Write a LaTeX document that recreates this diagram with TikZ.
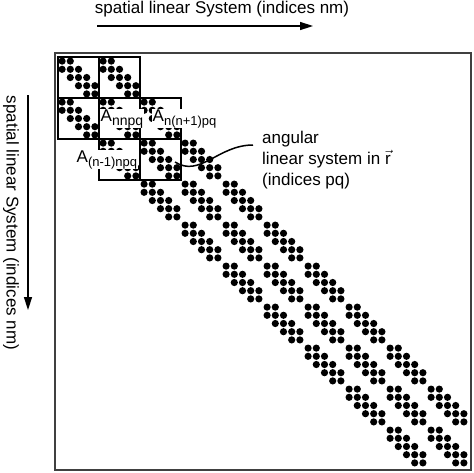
\documentclass[tikz,border=0pt]{standalone}
\usepackage{fontspec}
\setmainfont{Liberation Sans}
\usepackage{tikz}
\usetikzlibrary{arrows.meta, positioning, calc}

\begin{document}
\begin{tikzpicture}[x=1pt, y=-1pt, font=\fontsize{17}{21}\selectfont,
    blockbox/.style={draw, line width=1.6pt},
    axisarrow/.style={line width=1.5pt, -{Triangle[length=13pt, width=8pt]}},
    sublabel/.style={fill=white, inner sep=0.5pt, anchor=base west}]
    \useasboundingbox (0,0) rectangle (474,472);

    % frame of the whole matrix
    \draw[line width=1.5pt, black!75] (55,53) rectangle (471,470);

    % block tridiagonal, every block tridiagonal too
    \foreach \n in {1,...,10} {
        \foreach \d in {-1,0,1} {
            \pgfmathtruncatemacro{\m}{\n+\d}
            \ifnum\m>0 \ifnum\m<11
                \foreach \r in {1,...,5} {
                    \foreach \c in {1,...,5} {
                        \pgfmathtruncatemacro{\dd}{abs(\r-\c)}
                        \ifnum\dd<2
                            \fill ({58+41*(\m-1)+8.2*(\c-0.5)}, {57+41*(\n-1)+8.2*(\r-0.5)}) circle (3.6);
                        \fi
                    }
                }
            \fi\fi
        }
    }

    % boxes round the first blocks
    \foreach \n/\m in {1/1, 1/2, 2/1, 2/2, 2/3, 3/2, 3/3}
        \draw[blockbox] ({58+41*(\m-1)}, {57+41*(\n-1)}) rectangle +(41,41);

    \node[sublabel] (Ann) at (100,121) {A\raisebox{-4pt}{\fontsize{14}{14}\selectfont nnpq}};
    \node[sublabel] (Anm) at (152,121) {A\raisebox{-4pt}{\fontsize{13}{13}\selectfont n(n+1)pq}};
    \node[sublabel] (Amn) at (76,162) {A\raisebox{-4pt}{\fontsize{13}{13}\selectfont (n-1)npq}};

    % spatial axes
    \coordinate (h0) at (97,26);
    \coordinate (h1) at (313,26);
    \draw[axisarrow] (h0) -- (h1);
    \node[anchor=base] (hlabel) at (222,13) {spatial linear System (indices nm)};

    \coordinate (v0) at (28,95);
    \coordinate (v1) at (28,310);
    \draw[axisarrow] (v0) -- (v1);
    \node[rotate=-90] (vlabel) at (11,223) {spatial linear System (indices nm)};

    % angular system
    \node[anchor=north west, align=left, inner sep=0] (angular) at (262,131)
        {angular\\linear system in $\vec{\mbox{r}}$\\(indices pq)};
    \coordinate (pq) at (175,162);
    \draw[line width=1.5pt] (pq) .. controls (200,178) and (218,145) .. ([xshift=-9pt, yshift=-14pt]angular.north west);
\end{tikzpicture}
\end{document}
